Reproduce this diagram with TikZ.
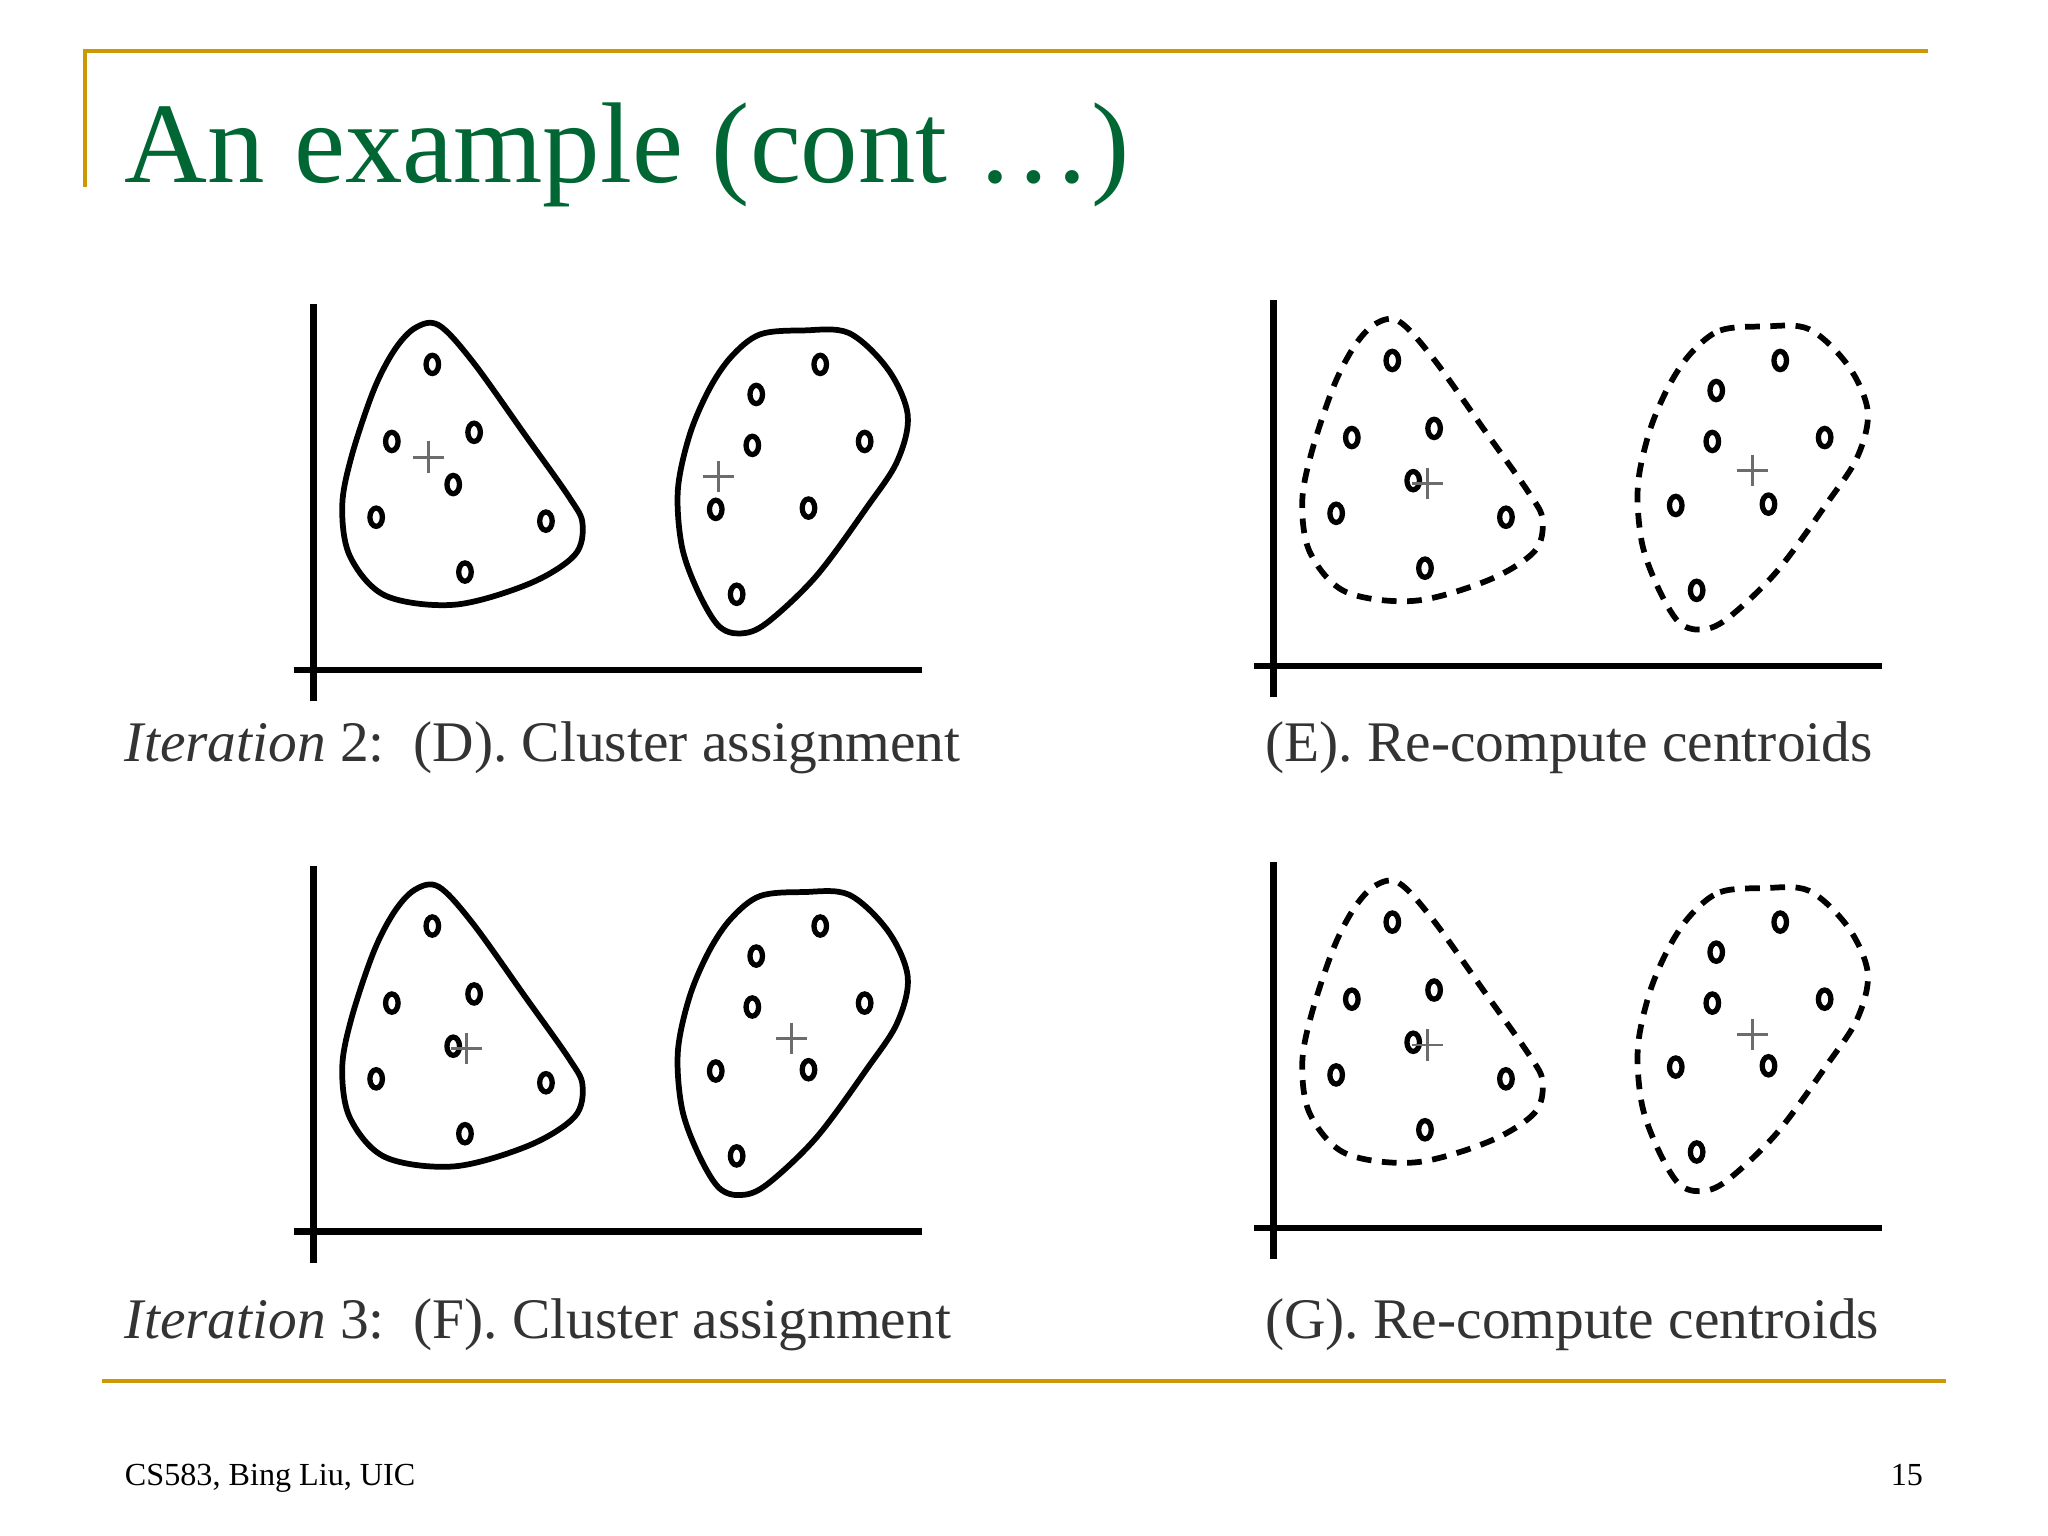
\documentclass[tikz,border=0pt]{standalone}
\usepackage{fontspec}
\setmainfont{Liberation Serif}
\usetikzlibrary{calc}
\definecolor{slidegold}{RGB}{204,153,0}
\definecolor{slidegreen}{RGB}{0,102,51}

\begin{document}
\begin{tikzpicture}[x=0.01cm,y=-0.01cm,
    axis/.style={line width=1.4pt},
    blob/.style={line width=1.25pt},
    dblob/.style={line width=1.25pt,dash pattern=on 3.2pt off 2.3pt},
    datum/.style={line width=1.15pt},
    centre/.style={gray!85!black,line width=0.6pt},
    caption/.style={anchor=base west,inner sep=0pt,text=black!80,font=\fontsize{12.5}{14}\selectfont}]

    \useasboundingbox (0,0) rectangle (1568,1176);

    % --- Cadre de la diapositive ---
    \draw[slidegold,line width=0.9pt] (65,143) -- (65,39) -- (1476,39);
    \draw[slidegold,line width=0.9pt] (78,1057) -- (1490,1057);
    \node[anchor=base west,inner sep=0pt,text=slidegreen,font=\fontsize{25}{30}\selectfont] (title) at (95,140) {An example (cont \dots)};

    % --- Les quatre graphiques : origine / style / centre 1 / centre 2 ---
    \foreach \ox/\oy/\sty/\ax/\ay/\bx/\by in {240/513/blob/88/-163/310/-148, 975/510/dblob/118/-140/367/-150, 240/943/blob/117/-140/366/-148, 975/940/dblob/118/-140/367/-148}
    {
    \begin{scope}[shift={(\ox,\oy)}]
        % axes
        \draw[axis] (0,24) -- (0,-280);
        \draw[axis] (-15,0) -- (466,0);
        % groupe de gauche
        \draw[\sty] plot[smooth cycle,tension=0.55] coordinates {(78,-262) (96,-264) (122,-236) (162,-180) (196,-132) (206,-112) (200,-88) (165,-66) (108,-50) (55,-57) (28,-87) (22,-125) (29,-163) (46,-214) (62,-245)};
        % groupe de droite
        \draw[\sty] plot[smooth cycle,tension=0.55] coordinates {(320,-240) (342,-257) (375,-260) (410,-258) (440,-230) (455,-195) (447,-160) (424,-125) (385,-72) (347,-36) (327,-28) (310,-34) (294,-61) (282,-95) (279,-138) (288,-180) (303,-215)};
        % points
        \foreach \px/\py in {91/-234, 60/-175, 123/-182, 107/-142, 48/-117, 178/-114, 116/-75, 388/-234, 339/-211, 336/-172, 422/-175, 308/-123, 379/-124, 324/-58}
            \draw[datum] (\px,\py) ellipse (4.8 and 7);
        % centres
        \foreach \cx/\cy in {\ax/\ay, \bx/\by}
            \draw[centre] (\cx-12,\cy) -- (\cx+12,\cy) (\cx,\cy-12) -- (\cx,\cy+12);
    \end{scope}
    }

    % --- Légendes ---
    \node[caption] (capD) at (95,583) {\textit{Iteration} 2:\ \ (D). Cluster assignment};
    \node[caption] (capE) at (968,583) {(E). Re-compute centroids};
    \node[caption] (capF) at (95,1025) {\textit{Iteration} 3:\ \ (F). Cluster assignment};
    \node[caption] (capG) at (968,1025) {(G). Re-compute centroids};

    % --- Pied de page ---
    \node[anchor=base west,inner sep=0pt,font=\fontsize{7}{9}\selectfont] (footer) at (95,1137) {CS583, Bing Liu, UIC};
    \node[anchor=base east,inner sep=0pt,font=\fontsize{7}{9}\selectfont] (pageno) at (1473,1137) {15};

\end{tikzpicture}
\end{document}
